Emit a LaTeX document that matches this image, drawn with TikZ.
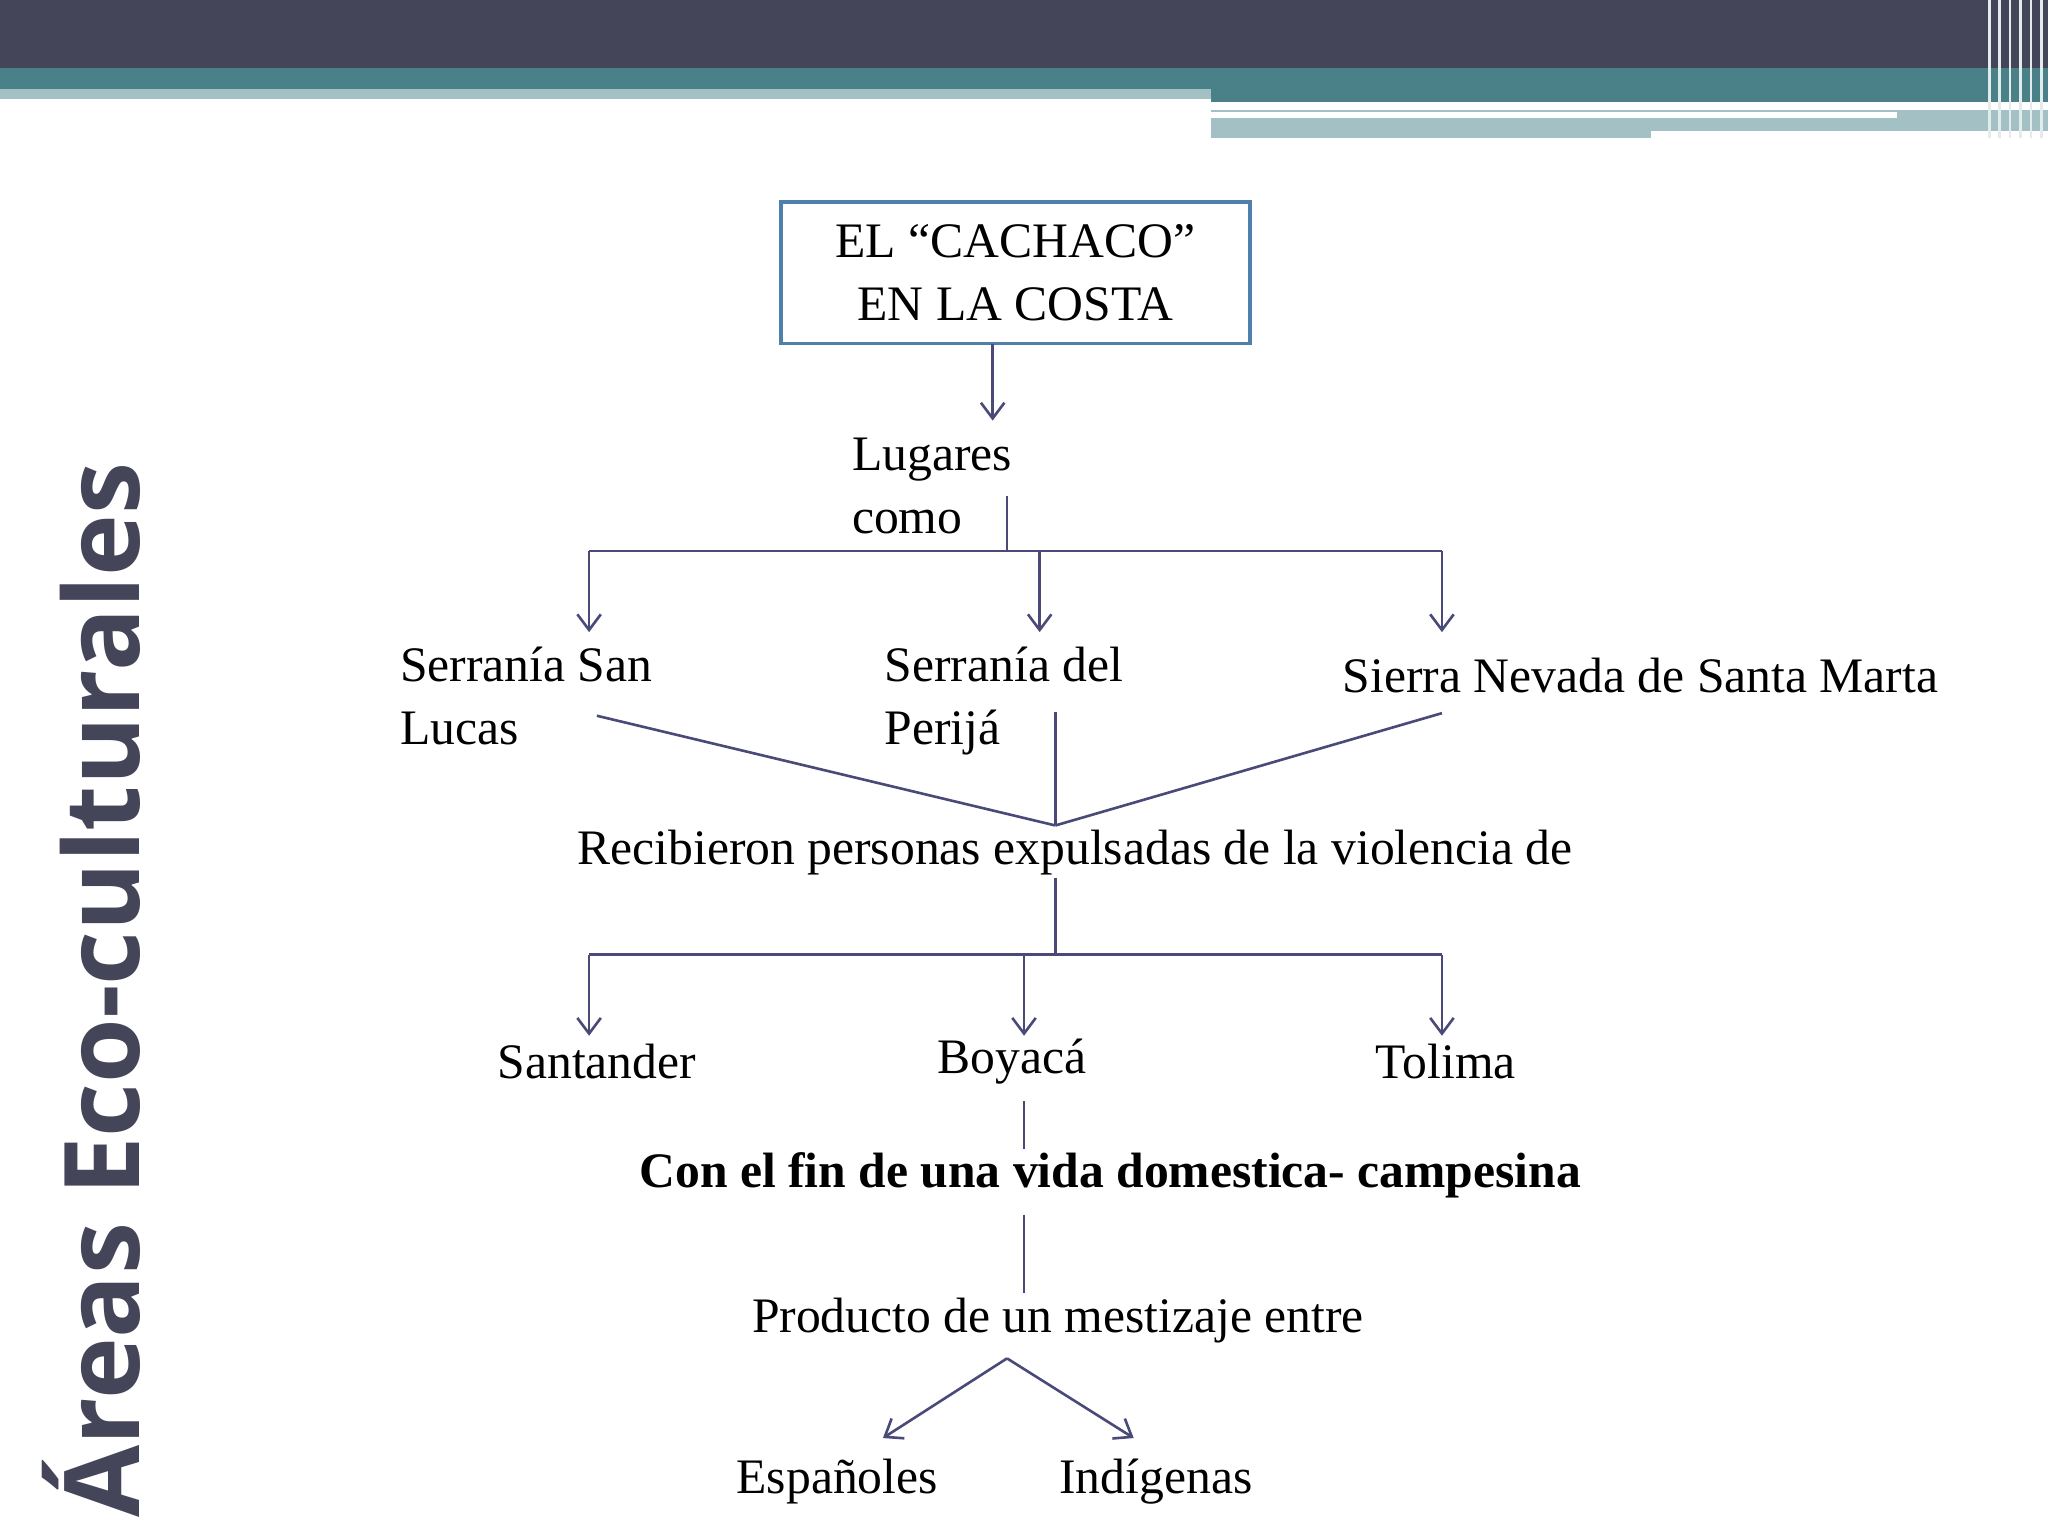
\documentclass[tikz,border=0pt]{standalone}
\usepackage{fontspec}
\setmainfont{Liberation Serif}
\newfontfamily\titlefont{Open Sans}
\usetikzlibrary{arrows.meta}
\definecolor{dark}{HTML}{45455A}
\definecolor{teal}{HTML}{4A8087}
\definecolor{lite}{HTML}{A3C0C4}
\definecolor{ln}{HTML}{4A4A78}
\definecolor{bx}{HTML}{4F80AC}
\tikzset{
 conn/.style={draw=ln,line width=1pt},
 arr/.style={conn,-{Straight Barb[length=6pt,width=9pt]}},
 txt/.style={font=\fontsize{19}{24}\selectfont,inner sep=0pt},
 txtl/.style={txt,align=left,anchor=north west},
}
\begin{document}
\begin{tikzpicture}[x=0.5pt,y=-0.5pt]
\useasboundingbox (0,0) rectangle (1568,1176);
% header
\fill[dark] (0,0) rectangle (1568,52);
\fill[teal] (0,52) rectangle (1568,68);
\fill[lite] (0,68) rectangle (927,76);
\fill[teal] (927,68) rectangle (1568,78);
\fill[lite] (927,84) rectangle (1568,106);
\fill[white] (927,86) rectangle (1452,90);
\fill[white] (1264,100) rectangle (1568,106);
\foreach \x in {1522,1530,1538,1546,1554,1562}{\fill[white!70!lite] (\x,0) rectangle (\x+2,106);}
% title
\node[rotate=90,font=\titlefont\bfseries\fontsize{40}{40}\selectfont,text=dark,anchor=west,inner sep=0pt] (title) at (70,1162) {Áreas Eco-culturales};
% nodes
\node[draw=bx,line width=1.5pt,minimum width=179.5pt,minimum height=54pt,align=center,txt] (box) at (777.5,209) {EL “CACHACO”\\EN LA COSTA};
\node[txtl] (lug) at (652,335) {Lugares\\como};
\node[txtl] (s1) at (306,495) {Serranía San\\Lucas};
\node[txtl] (s2) at (677,495) {Serranía del\\Perijá};
\node[txt] (s3) at (1256,517) {Sierra Nevada de Santa Marta};
\node[txt] (rec) at (823,653) {Recibieron personas expulsadas de la violencia de};
\node[txt] (san) at (457,813) {Santander};
\node[txt] (boy) at (775,813) {Boyacá};
\node[txt] (tol) at (1107,813) {Tolima};
\node[txt,font=\bfseries\fontsize{19}{24}\selectfont] (fin) at (850,900) {Con el fin de una vida domestica- campesina};
\node[txt] (pro) at (810,1011) {Producto de un mestizaje entre};
\node[txt] (esp) at (641,1134) {Españoles};
\node[txt] (ind) at (885,1134) {Indígenas};
% coordinates
\coordinate (a0) at (760,263); \coordinate (a1) at (760,322);
\coordinate (l0) at (771,380); \coordinate (l1) at (771,422);
\coordinate (h1) at (451,422); \coordinate (h2) at (796,422); \coordinate (h3) at (1104,422);
\coordinate (m) at (808,632);
\coordinate (r0) at (808,672); \coordinate (r1) at (808,731);
\coordinate (k1) at (451,731); \coordinate (k2) at (784,731); \coordinate (k3) at (1104,731);
\coordinate (b0) at (784,843); \coordinate (b1) at (784,880);
\coordinate (f0) at (784,930); \coordinate (f1) at (784,990);
\coordinate (p) at (771,1040);
% connectors
\draw[arr] (a0) -- (a1);
\draw[conn] (l0) -- (l1);
\draw[conn] (h1) -- (h3);
\draw[arr] (h1) -- (451,484);
\draw[arr] (h2) -- (796,484);
\draw[arr] (h3) -- (1104,484);
\draw[conn] (457,548) -- (m);
\draw[conn] (808,545) -- (m);
\draw[conn] (1104,546) -- (m);
\draw[conn] (r0) -- (r1);
\draw[conn] (k1) -- (k3);
\draw[arr] (k1) -- (451,793);
\draw[arr] (k2) -- (784,793);
\draw[arr] (k3) -- (1104,793);
\draw[conn] (b0) -- (b1);
\draw[conn] (f0) -- (f1);
\draw[arr] (p) -- (676,1101);
\draw[arr] (p) -- (868,1101);
\end{tikzpicture}
\end{document}
